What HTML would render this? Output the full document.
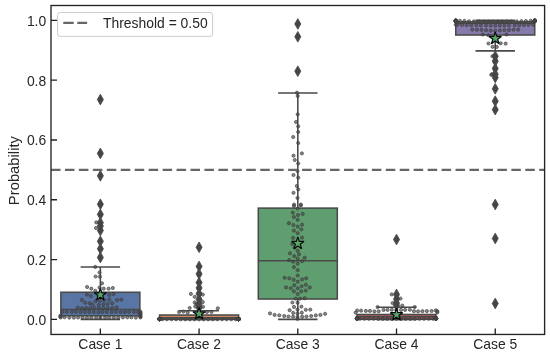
<!DOCTYPE html>
<html><head><meta charset="utf-8"><title>Boxplot</title>
<style>html,body{margin:0;padding:0;background:#fff}svg{display:block}text{font-family:"Liberation Sans",sans-serif;fill:#262626}</style>
</head><body>
<svg width="550" height="356" viewBox="0 0 550 356">
<rect x="0" y="0" width="550" height="356" fill="#fff"/>
<rect x="60.87" y="292.26" width="78.98" height="23.50" fill="#5875a4" stroke="#4a4a4a" stroke-width="1.55"/>
<path d="M100.36 292.26V267.03M100.36 315.76V319.35" stroke="#4a4a4a" stroke-width="1.55" fill="none"/>
<path d="M80.62 267.03H120.10M80.62 319.35H120.10" stroke="#4a4a4a" stroke-width="1.55" fill="none"/>
<path d="M60.87 309.57H139.85" stroke="#4a4a4a" stroke-width="1.55" fill="none"/>
<path d="M100.36 252.16L103.36 257.46L100.36 262.76L97.36 257.46Z" fill="#4a4a4a" stroke="#4a4a4a" stroke-width="0.9" stroke-linejoin="miter"/>
<path d="M100.36 243.49L103.36 248.79L100.36 254.09L97.36 248.79Z" fill="#4a4a4a" stroke="#4a4a4a" stroke-width="0.9" stroke-linejoin="miter"/>
<path d="M100.36 236.01L103.36 241.31L100.36 246.61L97.36 241.31Z" fill="#4a4a4a" stroke="#4a4a4a" stroke-width="0.9" stroke-linejoin="miter"/>
<path d="M100.36 225.25L103.36 230.55L100.36 235.85L97.36 230.55Z" fill="#4a4a4a" stroke="#4a4a4a" stroke-width="0.9" stroke-linejoin="miter"/>
<path d="M100.36 220.76L103.36 226.06L100.36 231.36L97.36 226.06Z" fill="#4a4a4a" stroke="#4a4a4a" stroke-width="0.9" stroke-linejoin="miter"/>
<path d="M100.36 217.47L103.36 222.77L100.36 228.07L97.36 222.77Z" fill="#4a4a4a" stroke="#4a4a4a" stroke-width="0.9" stroke-linejoin="miter"/>
<path d="M100.36 209.10L103.36 214.40L100.36 219.70L97.36 214.40Z" fill="#4a4a4a" stroke="#4a4a4a" stroke-width="0.9" stroke-linejoin="miter"/>
<path d="M100.36 198.94L103.36 204.24L100.36 209.54L97.36 204.24Z" fill="#4a4a4a" stroke="#4a4a4a" stroke-width="0.9" stroke-linejoin="miter"/>
<path d="M100.36 170.53L103.36 175.83L100.36 181.13L97.36 175.83Z" fill="#4a4a4a" stroke="#4a4a4a" stroke-width="0.9" stroke-linejoin="miter"/>
<path d="M100.36 148.10L103.36 153.41L100.36 158.71L97.36 153.41Z" fill="#4a4a4a" stroke="#4a4a4a" stroke-width="0.9" stroke-linejoin="miter"/>
<path d="M100.36 94.29L103.36 99.59L100.36 104.89L97.36 99.59Z" fill="#4a4a4a" stroke="#4a4a4a" stroke-width="0.9" stroke-linejoin="miter"/>
<rect x="159.59" y="315.04" width="78.98" height="4.31" fill="#cc8963" stroke="#4a4a4a" stroke-width="1.55"/>
<path d="M199.08 315.04V310.83M199.08 319.35V319.35" stroke="#4a4a4a" stroke-width="1.55" fill="none"/>
<path d="M179.34 310.83H218.82M179.34 319.35H218.82" stroke="#4a4a4a" stroke-width="1.55" fill="none"/>
<path d="M159.59 317.80H238.57" stroke="#4a4a4a" stroke-width="1.55" fill="none"/>
<path d="M199.08 302.39L202.08 307.69L199.08 312.99L196.08 307.69Z" fill="#4a4a4a" stroke="#4a4a4a" stroke-width="0.9" stroke-linejoin="miter"/>
<path d="M199.08 298.80L202.08 304.10L199.08 309.40L196.08 304.10Z" fill="#4a4a4a" stroke="#4a4a4a" stroke-width="0.9" stroke-linejoin="miter"/>
<path d="M199.08 294.02L202.08 299.32L199.08 304.62L196.08 299.32Z" fill="#4a4a4a" stroke="#4a4a4a" stroke-width="0.9" stroke-linejoin="miter"/>
<path d="M199.08 288.34L202.08 293.64L199.08 298.94L196.08 293.64Z" fill="#4a4a4a" stroke="#4a4a4a" stroke-width="0.9" stroke-linejoin="miter"/>
<path d="M199.08 282.66L202.08 287.96L199.08 293.26L196.08 287.96Z" fill="#4a4a4a" stroke="#4a4a4a" stroke-width="0.9" stroke-linejoin="miter"/>
<path d="M199.08 277.27L202.08 282.57L199.08 287.87L196.08 282.57Z" fill="#4a4a4a" stroke="#4a4a4a" stroke-width="0.9" stroke-linejoin="miter"/>
<path d="M199.08 268.60L202.08 273.90L199.08 279.20L196.08 273.90Z" fill="#4a4a4a" stroke="#4a4a4a" stroke-width="0.9" stroke-linejoin="miter"/>
<path d="M199.08 261.13L202.08 266.43L199.08 271.73L196.08 266.43Z" fill="#4a4a4a" stroke="#4a4a4a" stroke-width="0.9" stroke-linejoin="miter"/>
<path d="M199.08 241.99L202.08 247.29L199.08 252.59L196.08 247.29Z" fill="#4a4a4a" stroke="#4a4a4a" stroke-width="0.9" stroke-linejoin="miter"/>
<rect x="258.31" y="208.12" width="78.98" height="90.90" fill="#5f9e6e" stroke="#4a4a4a" stroke-width="1.55"/>
<path d="M297.80 208.12V93.01M297.80 299.02V319.35" stroke="#4a4a4a" stroke-width="1.55" fill="none"/>
<path d="M278.06 93.01H317.54M278.06 319.35H317.54" stroke="#4a4a4a" stroke-width="1.55" fill="none"/>
<path d="M258.31 260.75H337.29" stroke="#4a4a4a" stroke-width="1.55" fill="none"/>
<path d="M297.80 65.88L300.80 71.18L297.80 76.48L294.80 71.18Z" fill="#4a4a4a" stroke="#4a4a4a" stroke-width="0.9" stroke-linejoin="miter"/>
<path d="M297.80 31.50L300.80 36.80L297.80 42.10L294.80 36.80Z" fill="#4a4a4a" stroke="#4a4a4a" stroke-width="0.9" stroke-linejoin="miter"/>
<path d="M297.80 18.64L300.80 23.94L297.80 29.24L294.80 23.94Z" fill="#4a4a4a" stroke="#4a4a4a" stroke-width="0.9" stroke-linejoin="miter"/>
<rect x="357.03" y="314.48" width="78.98" height="4.87" fill="#b55d60" stroke="#4a4a4a" stroke-width="1.55"/>
<path d="M396.52 314.48V307.15M396.52 319.35V319.35" stroke="#4a4a4a" stroke-width="1.55" fill="none"/>
<path d="M376.78 307.15H416.26M376.78 319.35H416.26" stroke="#4a4a4a" stroke-width="1.55" fill="none"/>
<path d="M357.03 316.81H436.01" stroke="#4a4a4a" stroke-width="1.55" fill="none"/>
<path d="M396.52 300.15L399.52 305.45L396.52 310.75L393.52 305.45Z" fill="#4a4a4a" stroke="#4a4a4a" stroke-width="0.9" stroke-linejoin="miter"/>
<path d="M396.52 297.75L399.52 303.05L396.52 308.35L393.52 303.05Z" fill="#4a4a4a" stroke="#4a4a4a" stroke-width="0.9" stroke-linejoin="miter"/>
<path d="M396.52 293.84L399.52 299.14L396.52 304.44L393.52 299.14Z" fill="#4a4a4a" stroke="#4a4a4a" stroke-width="0.9" stroke-linejoin="miter"/>
<path d="M396.52 289.14L399.52 294.44L396.52 299.74L393.52 294.44Z" fill="#4a4a4a" stroke="#4a4a4a" stroke-width="0.9" stroke-linejoin="miter"/>
<path d="M396.52 234.22L399.52 239.52L396.52 244.82L393.52 239.52Z" fill="#4a4a4a" stroke="#4a4a4a" stroke-width="0.9" stroke-linejoin="miter"/>
<rect x="455.75" y="21.85" width="78.98" height="13.16" fill="#857aab" stroke="#4a4a4a" stroke-width="1.55"/>
<path d="M495.24 21.85V20.35M495.24 35.00V50.85" stroke="#4a4a4a" stroke-width="1.55" fill="none"/>
<path d="M475.50 20.35H514.98M475.50 50.85H514.98" stroke="#4a4a4a" stroke-width="1.55" fill="none"/>
<path d="M455.75 23.34H534.73" stroke="#4a4a4a" stroke-width="1.55" fill="none"/>
<path d="M495.24 50.93L498.24 56.23L495.24 61.53L492.24 56.23Z" fill="#4a4a4a" stroke="#4a4a4a" stroke-width="0.9" stroke-linejoin="miter"/>
<path d="M495.24 55.86L498.24 61.16L495.24 66.46L492.24 61.16Z" fill="#4a4a4a" stroke="#4a4a4a" stroke-width="0.9" stroke-linejoin="miter"/>
<path d="M495.24 63.19L498.24 68.49L495.24 73.79L492.24 68.49Z" fill="#4a4a4a" stroke="#4a4a4a" stroke-width="0.9" stroke-linejoin="miter"/>
<path d="M495.24 68.87L498.24 74.17L495.24 79.47L492.24 74.17Z" fill="#4a4a4a" stroke="#4a4a4a" stroke-width="0.9" stroke-linejoin="miter"/>
<path d="M495.24 72.16L498.24 77.46L495.24 82.76L492.24 77.46Z" fill="#4a4a4a" stroke="#4a4a4a" stroke-width="0.9" stroke-linejoin="miter"/>
<path d="M495.24 83.52L498.24 88.82L495.24 94.12L492.24 88.82Z" fill="#4a4a4a" stroke="#4a4a4a" stroke-width="0.9" stroke-linejoin="miter"/>
<path d="M495.24 95.84L498.24 101.14L495.24 106.44L492.24 101.14Z" fill="#4a4a4a" stroke="#4a4a4a" stroke-width="0.9" stroke-linejoin="miter"/>
<path d="M495.24 104.36L498.24 109.66L495.24 114.96L492.24 109.66Z" fill="#4a4a4a" stroke="#4a4a4a" stroke-width="0.9" stroke-linejoin="miter"/>
<path d="M495.24 199.23L498.24 204.53L495.24 209.83L492.24 204.53Z" fill="#4a4a4a" stroke="#4a4a4a" stroke-width="0.9" stroke-linejoin="miter"/>
<path d="M495.24 233.14L498.24 238.44L495.24 243.74L492.24 238.44Z" fill="#4a4a4a" stroke="#4a4a4a" stroke-width="0.9" stroke-linejoin="miter"/>
<path d="M495.24 298.20L498.24 303.50L495.24 308.80L492.24 303.50Z" fill="#4a4a4a" stroke="#4a4a4a" stroke-width="0.9" stroke-linejoin="miter"/>
<g fill="#4a4a4a" fill-opacity="0.66" stroke="#3c3c3c" stroke-opacity="0.85" stroke-width="0.75"><circle cx="60.69" cy="317.45" r="1.6"/><circle cx="64.60" cy="317.26" r="1.6"/><circle cx="69.36" cy="317.62" r="1.6"/><circle cx="73.83" cy="317.65" r="1.6"/><circle cx="78.08" cy="317.49" r="1.6"/><circle cx="82.51" cy="317.50" r="1.6"/><circle cx="86.96" cy="317.75" r="1.6"/><circle cx="91.34" cy="317.45" r="1.6"/><circle cx="96.13" cy="317.55" r="1.6"/><circle cx="100.35" cy="317.84" r="1.6"/><circle cx="105.14" cy="317.46" r="1.6"/><circle cx="109.14" cy="317.59" r="1.6"/><circle cx="113.84" cy="317.51" r="1.6"/><circle cx="118.30" cy="317.66" r="1.6"/><circle cx="122.89" cy="317.42" r="1.6"/><circle cx="127.24" cy="317.31" r="1.6"/><circle cx="131.34" cy="317.28" r="1.6"/><circle cx="135.82" cy="317.61" r="1.6"/><circle cx="140.42" cy="317.44" r="1.6"/><circle cx="60.40" cy="316.60" r="1.6"/><circle cx="60.40" cy="315.70" r="1.6"/><circle cx="140.40" cy="316.60" r="1.6"/><circle cx="140.40" cy="315.60" r="1.6"/><circle cx="140.40" cy="314.60" r="1.6"/><circle cx="140.40" cy="313.60" r="1.6"/><circle cx="140.40" cy="312.60" r="1.6"/><circle cx="140.40" cy="311.60" r="1.6"/><circle cx="62.57" cy="311.82" r="1.6"/><circle cx="66.78" cy="311.81" r="1.6"/><circle cx="71.71" cy="311.90" r="1.6"/><circle cx="75.90" cy="311.86" r="1.6"/><circle cx="80.54" cy="312.12" r="1.6"/><circle cx="84.78" cy="312.00" r="1.6"/><circle cx="89.24" cy="312.04" r="1.6"/><circle cx="93.81" cy="312.05" r="1.6"/><circle cx="98.44" cy="312.27" r="1.6"/><circle cx="102.38" cy="311.93" r="1.6"/><circle cx="106.82" cy="311.92" r="1.6"/><circle cx="111.73" cy="312.11" r="1.6"/><circle cx="116.04" cy="311.75" r="1.6"/><circle cx="120.64" cy="312.07" r="1.6"/><circle cx="124.78" cy="312.17" r="1.6"/><circle cx="129.07" cy="311.81" r="1.6"/><circle cx="133.97" cy="311.73" r="1.6"/><circle cx="138.03" cy="312.00" r="1.6"/><circle cx="82.00" cy="308.30" r="1.6"/><circle cx="86.10" cy="308.00" r="1.6"/><circle cx="90.20" cy="308.10" r="1.6"/><circle cx="94.30" cy="308.10" r="1.6"/><circle cx="98.90" cy="308.20" r="1.6"/><circle cx="103.30" cy="308.00" r="1.6"/><circle cx="107.70" cy="308.10" r="1.6"/><circle cx="112.30" cy="308.00" r="1.6"/><circle cx="116.60" cy="307.40" r="1.6"/><circle cx="77.80" cy="307.60" r="1.6"/><circle cx="92.50" cy="304.60" r="1.6"/><circle cx="98.80" cy="305.00" r="1.6"/><circle cx="103.40" cy="304.40" r="1.6"/><circle cx="107.60" cy="304.00" r="1.6"/><circle cx="112.10" cy="303.20" r="1.6"/><circle cx="89.70" cy="303.20" r="1.6"/><circle cx="85.20" cy="302.70" r="1.6"/><circle cx="81.90" cy="299.90" r="1.6"/><circle cx="95.60" cy="301.20" r="1.6"/><circle cx="99.90" cy="301.00" r="1.6"/><circle cx="104.40" cy="300.40" r="1.6"/><circle cx="109.30" cy="299.60" r="1.6"/><circle cx="117.00" cy="300.20" r="1.6"/><circle cx="121.30" cy="299.60" r="1.6"/><circle cx="86.90" cy="294.60" r="1.6"/><circle cx="90.80" cy="296.10" r="1.6"/><circle cx="109.30" cy="295.00" r="1.6"/><circle cx="113.50" cy="294.00" r="1.6"/><circle cx="87.10" cy="287.00" r="1.6"/><circle cx="91.30" cy="288.70" r="1.6"/><circle cx="95.30" cy="290.80" r="1.6"/><circle cx="99.50" cy="287.60" r="1.6"/><circle cx="103.70" cy="288.70" r="1.6"/><circle cx="108.60" cy="288.70" r="1.6"/><circle cx="112.80" cy="288.00" r="1.6"/><circle cx="102.00" cy="283.30" r="1.6"/><circle cx="95.60" cy="276.50" r="1.6"/><circle cx="99.90" cy="276.70" r="1.6"/><circle cx="99.50" cy="272.50" r="1.6"/><circle cx="95.30" cy="266.90" r="1.6"/><circle cx="96.30" cy="222.40" r="1.6"/><circle cx="96.00" cy="228.00" r="1.6"/><circle cx="100.40" cy="257.46" r="1.6"/><circle cx="100.40" cy="248.79" r="1.6"/><circle cx="100.40" cy="241.31" r="1.6"/><circle cx="100.40" cy="230.55" r="1.6"/><circle cx="100.40" cy="226.06" r="1.6"/><circle cx="100.40" cy="222.77" r="1.6"/><circle cx="100.40" cy="214.40" r="1.6"/><circle cx="100.40" cy="204.24" r="1.6"/><circle cx="100.40" cy="175.83" r="1.6"/><circle cx="100.40" cy="153.41" r="1.6"/><circle cx="100.40" cy="99.59" r="1.6"/><circle cx="194.49" cy="319.32" r="1.6"/><circle cx="159.59" cy="318.94" r="1.6"/><circle cx="238.57" cy="319.13" r="1.6"/><circle cx="159.59" cy="319.00" r="1.6"/><circle cx="238.57" cy="318.95" r="1.6"/><circle cx="159.59" cy="318.95" r="1.6"/><circle cx="238.57" cy="319.04" r="1.6"/><circle cx="238.57" cy="319.02" r="1.6"/><circle cx="231.21" cy="319.23" r="1.6"/><circle cx="238.57" cy="319.05" r="1.6"/><circle cx="185.31" cy="319.28" r="1.6"/><circle cx="159.59" cy="319.06" r="1.6"/><circle cx="238.57" cy="319.03" r="1.6"/><circle cx="238.57" cy="318.89" r="1.6"/><circle cx="159.59" cy="319.11" r="1.6"/><circle cx="199.08" cy="319.34" r="1.6"/><circle cx="159.59" cy="319.03" r="1.6"/><circle cx="166.95" cy="319.23" r="1.6"/><circle cx="159.59" cy="318.91" r="1.6"/><circle cx="238.57" cy="319.12" r="1.6"/><circle cx="159.59" cy="319.12" r="1.6"/><circle cx="238.57" cy="318.81" r="1.6"/><circle cx="238.57" cy="319.12" r="1.6"/><circle cx="159.59" cy="319.14" r="1.6"/><circle cx="159.59" cy="319.14" r="1.6"/><circle cx="238.57" cy="319.06" r="1.6"/><circle cx="208.26" cy="319.29" r="1.6"/><circle cx="159.59" cy="319.02" r="1.6"/><circle cx="159.59" cy="318.80" r="1.6"/><circle cx="159.59" cy="319.01" r="1.6"/><circle cx="238.57" cy="318.91" r="1.6"/><circle cx="238.57" cy="318.78" r="1.6"/><circle cx="159.59" cy="318.85" r="1.6"/><circle cx="159.59" cy="318.91" r="1.6"/><circle cx="159.59" cy="318.86" r="1.6"/><circle cx="238.57" cy="318.86" r="1.6"/><circle cx="238.57" cy="319.20" r="1.6"/><circle cx="159.59" cy="319.06" r="1.6"/><circle cx="238.57" cy="319.15" r="1.6"/><circle cx="159.59" cy="319.19" r="1.6"/><circle cx="238.57" cy="319.01" r="1.6"/><circle cx="159.59" cy="319.16" r="1.6"/><circle cx="238.57" cy="318.98" r="1.6"/><circle cx="159.59" cy="319.00" r="1.6"/><circle cx="212.85" cy="319.29" r="1.6"/><circle cx="238.57" cy="319.09" r="1.6"/><circle cx="159.59" cy="319.12" r="1.6"/><circle cx="238.57" cy="318.93" r="1.6"/><circle cx="189.90" cy="319.30" r="1.6"/><circle cx="176.13" cy="319.25" r="1.6"/><circle cx="159.59" cy="319.04" r="1.6"/><circle cx="238.57" cy="319.11" r="1.6"/><circle cx="159.59" cy="318.95" r="1.6"/><circle cx="238.57" cy="319.15" r="1.6"/><circle cx="226.62" cy="319.23" r="1.6"/><circle cx="238.57" cy="318.79" r="1.6"/><circle cx="162.36" cy="319.20" r="1.6"/><circle cx="222.03" cy="319.26" r="1.6"/><circle cx="238.57" cy="319.18" r="1.6"/><circle cx="159.59" cy="319.15" r="1.6"/><circle cx="235.80" cy="319.22" r="1.6"/><circle cx="159.59" cy="319.03" r="1.6"/><circle cx="159.59" cy="318.79" r="1.6"/><circle cx="180.72" cy="319.27" r="1.6"/><circle cx="159.59" cy="319.10" r="1.6"/><circle cx="238.57" cy="318.95" r="1.6"/><circle cx="159.59" cy="318.82" r="1.6"/><circle cx="159.59" cy="318.75" r="1.6"/><circle cx="217.44" cy="319.26" r="1.6"/><circle cx="238.57" cy="319.03" r="1.6"/><circle cx="238.57" cy="318.82" r="1.6"/><circle cx="203.67" cy="319.32" r="1.6"/><circle cx="238.57" cy="319.00" r="1.6"/><circle cx="171.54" cy="319.25" r="1.6"/><circle cx="199.08" cy="307.69" r="1.6"/><circle cx="196.31" cy="304.10" r="1.6"/><circle cx="199.08" cy="299.32" r="1.6"/><circle cx="199.08" cy="293.64" r="1.6"/><circle cx="199.08" cy="287.96" r="1.6"/><circle cx="199.08" cy="282.57" r="1.6"/><circle cx="199.08" cy="273.90" r="1.6"/><circle cx="199.08" cy="266.43" r="1.6"/><circle cx="199.08" cy="247.29" r="1.6"/><circle cx="190.90" cy="293.90" r="1.6"/><circle cx="194.70" cy="296.80" r="1.6"/><circle cx="202.80" cy="294.60" r="1.6"/><circle cx="194.70" cy="302.40" r="1.6"/><circle cx="202.80" cy="302.00" r="1.6"/><circle cx="189.70" cy="308.00" r="1.6"/><circle cx="217.80" cy="308.30" r="1.6"/><circle cx="183.40" cy="311.60" r="1.6"/><circle cx="179.10" cy="311.90" r="1.6"/><circle cx="187.70" cy="312.60" r="1.6"/><circle cx="207.00" cy="311.90" r="1.6"/><circle cx="211.50" cy="311.90" r="1.6"/><circle cx="195.20" cy="306.50" r="1.6"/><circle cx="203.00" cy="306.80" r="1.6"/><circle cx="297.00" cy="92.70" r="1.6"/><circle cx="297.70" cy="96.00" r="1.6"/><circle cx="297.70" cy="114.30" r="1.6"/><circle cx="296.00" cy="122.00" r="1.6"/><circle cx="298.20" cy="126.40" r="1.6"/><circle cx="298.20" cy="132.00" r="1.6"/><circle cx="293.20" cy="137.00" r="1.6"/><circle cx="298.20" cy="143.00" r="1.6"/><circle cx="301.90" cy="153.40" r="1.6"/><circle cx="293.50" cy="155.70" r="1.6"/><circle cx="294.80" cy="160.00" r="1.6"/><circle cx="298.20" cy="163.50" r="1.6"/><circle cx="297.50" cy="171.00" r="1.6"/><circle cx="293.50" cy="175.00" r="1.6"/><circle cx="298.20" cy="177.60" r="1.6"/><circle cx="296.80" cy="186.00" r="1.6"/><circle cx="298.20" cy="189.40" r="1.6"/><circle cx="293.50" cy="192.80" r="1.6"/><circle cx="297.50" cy="198.00" r="1.6"/><circle cx="294.10" cy="204.60" r="1.6"/><circle cx="300.90" cy="204.60" r="1.6"/><circle cx="293.90" cy="205.90" r="1.6"/><circle cx="300.80" cy="205.40" r="1.6"/><circle cx="297.70" cy="208.50" r="1.6"/><circle cx="292.80" cy="212.70" r="1.6"/><circle cx="302.70" cy="213.90" r="1.6"/><circle cx="298.00" cy="215.10" r="1.6"/><circle cx="293.90" cy="217.00" r="1.6"/><circle cx="297.70" cy="219.80" r="1.6"/><circle cx="288.90" cy="223.20" r="1.6"/><circle cx="293.40" cy="225.00" r="1.6"/><circle cx="302.10" cy="224.70" r="1.6"/><circle cx="297.70" cy="226.60" r="1.6"/><circle cx="301.30" cy="229.40" r="1.6"/><circle cx="293.90" cy="230.60" r="1.6"/><circle cx="297.70" cy="233.20" r="1.6"/><circle cx="293.10" cy="237.90" r="1.6"/><circle cx="302.10" cy="237.60" r="1.6"/><circle cx="292.30" cy="244.00" r="1.6"/><circle cx="294.60" cy="247.60" r="1.6"/><circle cx="297.70" cy="250.80" r="1.6"/><circle cx="290.00" cy="253.40" r="1.6"/><circle cx="299.00" cy="254.30" r="1.6"/><circle cx="294.30" cy="256.20" r="1.6"/><circle cx="304.70" cy="257.70" r="1.6"/><circle cx="297.70" cy="258.50" r="1.6"/><circle cx="289.20" cy="260.00" r="1.6"/><circle cx="293.10" cy="261.60" r="1.6"/><circle cx="302.10" cy="261.10" r="1.6"/><circle cx="297.70" cy="263.60" r="1.6"/><circle cx="293.90" cy="267.00" r="1.6"/><circle cx="297.70" cy="270.10" r="1.6"/><circle cx="297.70" cy="275.50" r="1.6"/><circle cx="284.60" cy="277.80" r="1.6"/><circle cx="289.20" cy="278.30" r="1.6"/><circle cx="293.60" cy="279.70" r="1.6"/><circle cx="302.10" cy="279.40" r="1.6"/><circle cx="306.20" cy="278.30" r="1.6"/><circle cx="297.70" cy="281.70" r="1.6"/><circle cx="294.30" cy="285.20" r="1.6"/><circle cx="301.60" cy="286.30" r="1.6"/><circle cx="305.80" cy="284.80" r="1.6"/><circle cx="286.10" cy="287.40" r="1.6"/><circle cx="290.80" cy="288.20" r="1.6"/><circle cx="309.80" cy="287.40" r="1.6"/><circle cx="297.70" cy="288.30" r="1.6"/><circle cx="293.90" cy="291.30" r="1.6"/><circle cx="301.30" cy="291.30" r="1.6"/><circle cx="305.80" cy="290.50" r="1.6"/><circle cx="297.70" cy="294.00" r="1.6"/><circle cx="295.60" cy="298.60" r="1.6"/><circle cx="300.00" cy="298.60" r="1.6"/><circle cx="304.70" cy="298.20" r="1.6"/><circle cx="292.40" cy="302.50" r="1.6"/><circle cx="297.60" cy="302.70" r="1.6"/><circle cx="294.00" cy="306.90" r="1.6"/><circle cx="301.40" cy="306.60" r="1.6"/><circle cx="289.60" cy="310.20" r="1.6"/><circle cx="297.50" cy="309.60" r="1.6"/><circle cx="305.80" cy="309.80" r="1.6"/><circle cx="310.30" cy="309.60" r="1.6"/><circle cx="293.20" cy="312.90" r="1.6"/><circle cx="301.80" cy="312.70" r="1.6"/><circle cx="297.50" cy="313.40" r="1.6"/><circle cx="270.00" cy="313.40" r="1.6"/><circle cx="274.60" cy="314.90" r="1.6"/><circle cx="279.30" cy="315.30" r="1.6"/><circle cx="284.20" cy="316.00" r="1.6"/><circle cx="288.50" cy="316.50" r="1.6"/><circle cx="293.10" cy="316.70" r="1.6"/><circle cx="297.50" cy="316.90" r="1.6"/><circle cx="302.20" cy="316.70" r="1.6"/><circle cx="306.50" cy="316.50" r="1.6"/><circle cx="311.20" cy="316.00" r="1.6"/><circle cx="315.80" cy="315.40" r="1.6"/><circle cx="320.40" cy="314.90" r="1.6"/><circle cx="325.10" cy="313.80" r="1.6"/><circle cx="297.50" cy="318.90" r="1.6"/><circle cx="297.70" cy="23.50" r="1.6"/><circle cx="297.70" cy="36.40" r="1.6"/><circle cx="297.70" cy="70.70" r="1.6"/><circle cx="357.03" cy="318.16" r="1.6"/><circle cx="433.24" cy="318.72" r="1.6"/><circle cx="357.03" cy="318.70" r="1.6"/><circle cx="368.98" cy="318.75" r="1.6"/><circle cx="436.01" cy="318.45" r="1.6"/><circle cx="436.01" cy="318.54" r="1.6"/><circle cx="357.03" cy="318.29" r="1.6"/><circle cx="424.06" cy="318.74" r="1.6"/><circle cx="436.01" cy="318.25" r="1.6"/><circle cx="357.03" cy="318.55" r="1.6"/><circle cx="436.01" cy="318.30" r="1.6"/><circle cx="357.03" cy="318.30" r="1.6"/><circle cx="357.03" cy="318.22" r="1.6"/><circle cx="436.01" cy="318.53" r="1.6"/><circle cx="357.03" cy="318.45" r="1.6"/><circle cx="357.03" cy="318.48" r="1.6"/><circle cx="419.47" cy="318.76" r="1.6"/><circle cx="357.03" cy="318.53" r="1.6"/><circle cx="436.01" cy="318.21" r="1.6"/><circle cx="436.01" cy="318.22" r="1.6"/><circle cx="401.11" cy="318.89" r="1.6"/><circle cx="436.01" cy="318.41" r="1.6"/><circle cx="436.01" cy="318.66" r="1.6"/><circle cx="378.16" cy="318.80" r="1.6"/><circle cx="414.88" cy="318.80" r="1.6"/><circle cx="436.01" cy="318.31" r="1.6"/><circle cx="436.01" cy="318.18" r="1.6"/><circle cx="357.03" cy="318.51" r="1.6"/><circle cx="436.01" cy="318.61" r="1.6"/><circle cx="436.01" cy="318.52" r="1.6"/><circle cx="436.01" cy="318.28" r="1.6"/><circle cx="436.01" cy="318.34" r="1.6"/><circle cx="382.75" cy="318.85" r="1.6"/><circle cx="364.39" cy="318.74" r="1.6"/><circle cx="357.03" cy="318.25" r="1.6"/><circle cx="357.03" cy="318.53" r="1.6"/><circle cx="357.03" cy="318.41" r="1.6"/><circle cx="357.03" cy="318.32" r="1.6"/><circle cx="436.01" cy="318.43" r="1.6"/><circle cx="357.03" cy="318.35" r="1.6"/><circle cx="436.01" cy="318.49" r="1.6"/><circle cx="428.65" cy="318.73" r="1.6"/><circle cx="373.57" cy="318.76" r="1.6"/><circle cx="436.01" cy="318.16" r="1.6"/><circle cx="391.93" cy="318.89" r="1.6"/><circle cx="357.03" cy="318.39" r="1.6"/><circle cx="357.03" cy="318.24" r="1.6"/><circle cx="359.80" cy="318.73" r="1.6"/><circle cx="405.70" cy="318.87" r="1.6"/><circle cx="357.03" cy="318.60" r="1.6"/><circle cx="436.01" cy="318.65" r="1.6"/><circle cx="436.01" cy="318.56" r="1.6"/><circle cx="436.01" cy="318.58" r="1.6"/><circle cx="436.01" cy="318.20" r="1.6"/><circle cx="410.29" cy="318.81" r="1.6"/><circle cx="357.03" cy="318.20" r="1.6"/><circle cx="387.34" cy="318.87" r="1.6"/><circle cx="357.03" cy="318.20" r="1.6"/><circle cx="357.03" cy="318.65" r="1.6"/><circle cx="436.01" cy="318.36" r="1.6"/><circle cx="396.52" cy="318.90" r="1.6"/><circle cx="357.03" cy="318.57" r="1.6"/><circle cx="396.52" cy="305.45" r="1.6"/><circle cx="392.63" cy="303.05" r="1.6"/><circle cx="396.52" cy="299.14" r="1.6"/><circle cx="396.52" cy="294.44" r="1.6"/><circle cx="396.52" cy="239.52" r="1.6"/><circle cx="391.70" cy="294.40" r="1.6"/><circle cx="402.30" cy="305.60" r="1.6"/><circle cx="377.60" cy="307.00" r="1.6"/><circle cx="414.70" cy="307.00" r="1.6"/><circle cx="400.50" cy="298.50" r="1.6"/><circle cx="357.13" cy="310.52" r="1.6"/><circle cx="361.10" cy="310.64" r="1.6"/><circle cx="365.88" cy="310.90" r="1.6"/><circle cx="369.96" cy="310.89" r="1.6"/><circle cx="374.38" cy="311.46" r="1.6"/><circle cx="378.63" cy="311.32" r="1.6"/><circle cx="383.53" cy="309.90" r="1.6"/><circle cx="387.53" cy="309.87" r="1.6"/><circle cx="391.81" cy="309.80" r="1.6"/><circle cx="396.28" cy="309.99" r="1.6"/><circle cx="401.02" cy="309.93" r="1.6"/><circle cx="405.11" cy="309.95" r="1.6"/><circle cx="409.85" cy="309.73" r="1.6"/><circle cx="413.96" cy="311.13" r="1.6"/><circle cx="418.08" cy="311.36" r="1.6"/><circle cx="422.44" cy="311.19" r="1.6"/><circle cx="426.85" cy="311.06" r="1.6"/><circle cx="431.61" cy="310.98" r="1.6"/><circle cx="435.77" cy="310.42" r="1.6"/><circle cx="355.60" cy="312.60" r="1.6"/><circle cx="437.30" cy="312.40" r="1.6"/><circle cx="437.30" cy="311.20" r="1.6"/><circle cx="455.75" cy="20.78" r="1.6"/><circle cx="455.75" cy="20.85" r="1.6"/><circle cx="455.75" cy="20.61" r="1.6"/><circle cx="511.32" cy="21.49" r="1.6"/><circle cx="521.45" cy="21.16" r="1.6"/><circle cx="534.73" cy="20.87" r="1.6"/><circle cx="493.08" cy="21.66" r="1.6"/><circle cx="534.73" cy="20.57" r="1.6"/><circle cx="534.73" cy="21.14" r="1.6"/><circle cx="534.73" cy="21.36" r="1.6"/><circle cx="478.80" cy="21.40" r="1.6"/><circle cx="534.73" cy="20.82" r="1.6"/><circle cx="497.64" cy="21.63" r="1.6"/><circle cx="516.77" cy="21.37" r="1.6"/><circle cx="534.73" cy="21.29" r="1.6"/><circle cx="455.75" cy="21.35" r="1.6"/><circle cx="534.73" cy="20.71" r="1.6"/><circle cx="464.41" cy="20.90" r="1.6"/><circle cx="455.75" cy="20.48" r="1.6"/><circle cx="455.75" cy="20.75" r="1.6"/><circle cx="534.73" cy="21.30" r="1.6"/><circle cx="455.75" cy="21.26" r="1.6"/><circle cx="506.73" cy="21.53" r="1.6"/><circle cx="473.95" cy="21.37" r="1.6"/><circle cx="459.91" cy="20.88" r="1.6"/><circle cx="455.75" cy="20.71" r="1.6"/><circle cx="455.75" cy="21.30" r="1.6"/><circle cx="468.99" cy="21.23" r="1.6"/><circle cx="534.73" cy="20.62" r="1.6"/><circle cx="455.75" cy="20.41" r="1.6"/><circle cx="502.14" cy="21.58" r="1.6"/><circle cx="483.80" cy="21.60" r="1.6"/><circle cx="534.73" cy="20.67" r="1.6"/><circle cx="525.98" cy="21.03" r="1.6"/><circle cx="455.75" cy="21.12" r="1.6"/><circle cx="530.64" cy="20.84" r="1.6"/><circle cx="455.75" cy="20.67" r="1.6"/><circle cx="488.52" cy="21.60" r="1.6"/><circle cx="534.73" cy="20.40" r="1.6"/><circle cx="534.73" cy="20.41" r="1.6"/><circle cx="476.30" cy="25.23" r="1.6"/><circle cx="471.21" cy="25.17" r="1.6"/><circle cx="480.89" cy="25.41" r="1.6"/><circle cx="523.88" cy="25.03" r="1.6"/><circle cx="504.42" cy="25.49" r="1.6"/><circle cx="466.62" cy="25.09" r="1.6"/><circle cx="455.75" cy="24.65" r="1.6"/><circle cx="519.29" cy="25.13" r="1.6"/><circle cx="457.45" cy="24.74" r="1.6"/><circle cx="486.06" cy="25.52" r="1.6"/><circle cx="533.05" cy="24.68" r="1.6"/><circle cx="499.83" cy="25.58" r="1.6"/><circle cx="509.01" cy="25.48" r="1.6"/><circle cx="462.03" cy="24.87" r="1.6"/><circle cx="514.71" cy="25.37" r="1.6"/><circle cx="490.65" cy="25.59" r="1.6"/><circle cx="495.24" cy="25.63" r="1.6"/><circle cx="528.46" cy="24.78" r="1.6"/><circle cx="495.24" cy="30.64" r="1.6"/><circle cx="490.65" cy="30.60" r="1.6"/><circle cx="472.33" cy="29.53" r="1.6"/><circle cx="513.57" cy="29.73" r="1.6"/><circle cx="486.08" cy="30.22" r="1.6"/><circle cx="499.83" cy="30.44" r="1.6"/><circle cx="518.16" cy="29.63" r="1.6"/><circle cx="476.91" cy="29.72" r="1.6"/><circle cx="481.50" cy="29.87" r="1.6"/><circle cx="508.99" cy="30.03" r="1.6"/><circle cx="504.40" cy="30.04" r="1.6"/><circle cx="495.24" cy="56.23" r="1.6"/><circle cx="495.24" cy="61.16" r="1.6"/><circle cx="495.24" cy="68.49" r="1.6"/><circle cx="492.11" cy="74.17" r="1.6"/><circle cx="495.24" cy="77.46" r="1.6"/><circle cx="495.24" cy="88.82" r="1.6"/><circle cx="495.24" cy="101.14" r="1.6"/><circle cx="495.24" cy="109.66" r="1.6"/><circle cx="495.24" cy="204.53" r="1.6"/><circle cx="495.24" cy="238.44" r="1.6"/><circle cx="495.24" cy="303.50" r="1.6"/><circle cx="482.70" cy="34.50" r="1.6"/><circle cx="488.50" cy="35.20" r="1.6"/><circle cx="506.50" cy="34.50" r="1.6"/><circle cx="488.50" cy="43.50" r="1.6"/><circle cx="500.70" cy="43.30" r="1.6"/><circle cx="505.60" cy="43.60" r="1.6"/><circle cx="492.60" cy="46.80" r="1.6"/><circle cx="496.80" cy="46.90" r="1.6"/><circle cx="492.50" cy="56.20" r="1.6"/><circle cx="491.30" cy="74.80" r="1.6"/></g>
<polygon points="100.36,288.33 101.82,292.82 106.54,292.82 102.72,295.60 104.18,300.09 100.36,297.31 96.54,300.09 98.00,295.60 94.18,292.82 98.90,292.82" fill="#55a868" stroke="#0a0a0a" stroke-width="1.2" stroke-linejoin="bevel"/>
<polygon points="199.08,307.32 200.54,311.81 205.26,311.81 201.44,314.59 202.90,319.08 199.08,316.30 195.26,319.08 196.72,314.59 192.90,311.81 197.62,311.81" fill="#55a868" stroke="#0a0a0a" stroke-width="1.2" stroke-linejoin="bevel"/>
<polygon points="297.80,236.90 299.26,241.40 303.98,241.40 300.16,244.17 301.62,248.66 297.80,245.89 293.98,248.66 295.44,244.17 291.62,241.40 296.34,241.40" fill="#55a868" stroke="#0a0a0a" stroke-width="1.2" stroke-linejoin="bevel"/>
<polygon points="396.52,308.22 397.98,312.71 402.70,312.71 398.88,315.48 400.34,319.97 396.52,317.20 392.70,319.97 394.16,315.48 390.34,312.71 395.06,312.71" fill="#55a868" stroke="#0a0a0a" stroke-width="1.2" stroke-linejoin="bevel"/>
<polygon points="495.24,31.94 496.70,36.43 501.42,36.43 497.60,39.21 499.06,43.70 495.24,40.92 491.42,43.70 492.88,39.21 489.06,36.43 493.78,36.43" fill="#55a868" stroke="#0a0a0a" stroke-width="1.2" stroke-linejoin="bevel"/>
<path d="M51.00 169.85H544.60" stroke="#666" stroke-width="2.35" stroke-dasharray="9.5 4.45" fill="none"/>
<rect x="51.0" y="5.5" width="493.6" height="328.95" fill="none" stroke="#222" stroke-width="1.35"/>
<path d="M51.0 319.35h6M51.0 259.55h6M51.0 199.75h6M51.0 139.95h6M51.0 80.15h6M51.0 20.35h6M100.36 334.45v-6M199.08 334.45v-6M297.80 334.45v-6M396.52 334.45v-6M495.24 334.45v-6" stroke="#222" stroke-width="1.35" fill="none"/>
<text x="46.2" y="324.85" text-anchor="end" font-size="13.9">0.0</text>
<text x="46.2" y="265.05" text-anchor="end" font-size="13.9">0.2</text>
<text x="46.2" y="205.25" text-anchor="end" font-size="13.9">0.4</text>
<text x="46.2" y="145.45" text-anchor="end" font-size="13.9">0.6</text>
<text x="46.2" y="85.65" text-anchor="end" font-size="13.9">0.8</text>
<text x="46.2" y="25.85" text-anchor="end" font-size="13.9">1.0</text>
<text x="100.36" y="349.3" text-anchor="middle" font-size="13.9">Case 1</text>
<text x="199.08" y="349.3" text-anchor="middle" font-size="13.9">Case 2</text>
<text x="297.80" y="349.3" text-anchor="middle" font-size="13.9">Case 3</text>
<text x="396.52" y="349.3" text-anchor="middle" font-size="13.9">Case 4</text>
<text x="495.24" y="349.3" text-anchor="middle" font-size="13.9">Case 5</text>
<text transform="translate(18.7 170.6) rotate(-90)" text-anchor="middle" font-size="14.8">Probability</text>
<rect x="57.6" y="12.5" width="155.0" height="23.9" rx="2.6" fill="#fff" fill-opacity="0.8" stroke="#ccc" stroke-width="1"/>
<path d="M63.3 22.8H73.7M77.3 22.8H87.1" stroke="#666" stroke-width="2.35" fill="none"/>
<text x="103.0" y="27.9" font-size="13.9">Threshold = 0.50</text>
</svg>
</body></html>
